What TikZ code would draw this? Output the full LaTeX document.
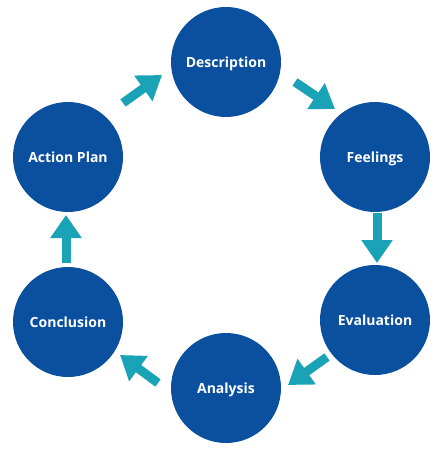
\documentclass[tikz,border=0pt]{standalone}
\usepackage{fontspec}
\setmainfont{Open Sans}
\usetikzlibrary{arrows.meta}
\definecolor{cblue}{HTML}{0A509E}
\definecolor{cteal}{HTML}{1AA2B6}
\begin{document}
\begin{tikzpicture}[x=1pt,y=-1pt,
  stage/.style={circle,fill=cblue,minimum size=110pt,inner sep=0pt,text=white,
    text height=14pt,text depth=3pt,font=\bfseries\fontsize{14}{16}\selectfont},
  flow/.style={cteal,line width=9pt,-{Triangle[width=30pt,length=23pt]}}]
\useasboundingbox (0,0) rectangle (438,454);
\node[stage] (desc) at (226,62) {Description};
\node[stage] (feel) at (375,157) {Feelings};
\node[stage] (eval) at (375,320) {Evaluation};
\node[stage] (anal) at (226,388) {Analysis};
\node[stage] (conc) at (68,322) {Conclusion};
\node[stage] (act) at (68,157) {Action Plan};
\coordinate (a1s) at (123,103); \coordinate (a1e) at (162,75);
\coordinate (a2s) at (295,82); \coordinate (a2e) at (335,109);
\coordinate (a3s) at (377,213); \coordinate (a3e) at (377,263);
\coordinate (a4s) at (327,357); \coordinate (a4e) at (288,385);
\coordinate (a5s) at (158,383); \coordinate (a5e) at (120,355);
\coordinate (a6s) at (66,263); \coordinate (a6e) at (66,215);
\draw[flow] (a1s) -- (a1e);
\draw[flow] (a2s) -- (a2e);
\draw[flow] (a3s) -- (a3e);
\draw[flow] (a4s) -- (a4e);
\draw[flow] (a5s) -- (a5e);
\draw[flow] (a6s) -- (a6e);
\end{tikzpicture}
\end{document}
